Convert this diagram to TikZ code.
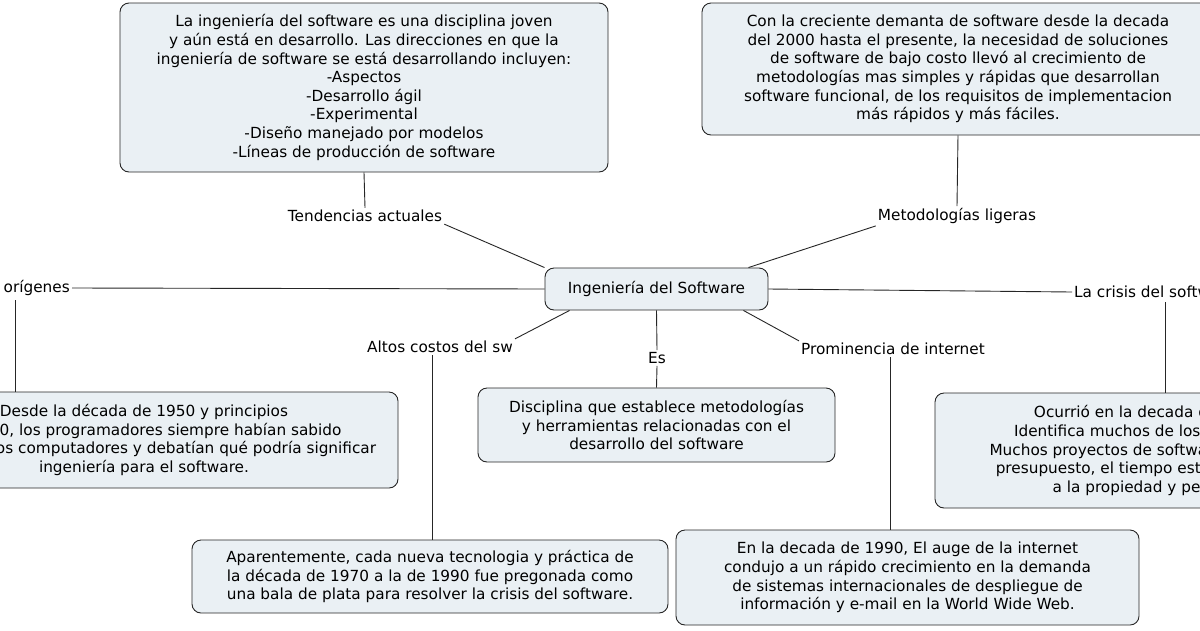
\documentclass[tikz,border=0pt]{standalone}
\usepackage{fontspec}
\setmainfont{DejaVu Sans}
\begin{document}
\begin{tikzpicture}[x=1pt,y=-1pt,
 box/.style={draw=black!85,line width=0.9pt,rounded corners=9pt,fill={rgb,255:red,234;green,240;blue,244},align=center,inner sep=0pt,font=\fontsize{15.3}{18.6}\selectfont},
 phr/.style={inner sep=2pt,font=\fontsize{15.3}{18.6}\selectfont},
 ln/.style={line width=0.9pt,draw=black!85}]
\useasboundingbox (0,0) rectangle (1200,630);
\clip (0,0) rectangle (1200,630);
\node[box,minimum width=488pt,minimum height=169pt] (b1) at (364,87.5) {La ingeniería del software es una disciplina joven\\y aún está en desarrollo. Las direcciones en que la\\ingeniería de software se está desarrollando incluyen:\\-Aspectos\\-Desarrollo ágil\\-Experimental\\-Diseño manejado por modelos\\-Líneas de producción de software};
\node[box,minimum width=512pt,minimum height=132pt] (b2) at (958,69) {Con la creciente demanta de software desde la decada\\del 2000 hasta el presente, la necesidad de soluciones\\de software de bajo costo llevó al crecimiento de\\metodologías mas simples y rápidas que desarrollan\\software funcional, de los requisitos de implementacion\\más rápidos y más fáciles.};
\node[box,minimum width=223pt,minimum height=42pt] (c) at (656.5,289) {Ingeniería del Software};
\node[box,minimum width=508pt,minimum height=96pt] (b4) at (144,440) {Desde la década de 1950 y principios\\de 1960, los programadores siempre habían sabido\\acerca de los computadores y debatían qué podría significar\\ingeniería para el software.};
\node[box,minimum width=357pt,minimum height=74pt] (b5) at (656.5,425) {Disciplina que establece metodologías\\y herramientas relacionadas con el\\desarrollo del software};
\node[box,minimum width=430pt,minimum height=115pt] (b6) at (1150,450.5) {Ocurrió en la decada de 1970.\\Identifica muchos de los problemas\\Muchos proyectos de software exceden el\\presupuesto, el tiempo estimado, daños\\a la propiedad y perdidas};
\node[box,minimum width=476pt,minimum height=73pt] (b7) at (430,576.5) {Aparentemente, cada nueva tecnologia y práctica de\\la década de 1970 a la de 1990 fue pregonada como\\una bala de plata para resolver la crisis del software.};
\node[box,minimum width=463pt,minimum height=95pt] (b8) at (907.5,577.5) {En la decada de 1990, El auge de la internet\\condujo a un rápido crecimiento en la demanda\\de sistemas internacionales de despliegue de\\información y e-mail en la World Wide Web.};
\node[phr] (p1) at (365,216) {Tendencias actuales};
\node[phr] (p2) at (957,216) {Metodologías ligeras};
\node[phr,anchor=east] (p3) at (72,288) {Los orígenes};
\node[phr,anchor=west] (p4) at (1072,292) {La crisis del software};
\node[phr] (p5) at (440,347) {Altos costos del sw};
\node[phr] (p6) at (657,358) {Es};
\node[phr] (p7) at (893,349) {Prominencia de internet};
\coordinate (p3d) at (15,300);
\coordinate (p4d) at (1165,302);
\draw[ln] (b1.south) -- (p1.north);
\draw[ln] (p1.south east) -- (c.north west);
\draw[ln] (b2.south) -- (p2.north);
\draw[ln] (p2.south west) -- ([xshift=-20pt]c.north east);
\draw[ln] (c.west) -- (p3.east);
\draw[ln] (p3d) -- (p3d|-b4.north);
\draw[ln] (c.east) -- (p4.west);
\draw[ln] (p4d) -- (p4d|-b6.north);
\draw[ln] ([xshift=25pt]c.south west) -- (p5.north east);
\draw[ln] ([xshift=-8pt]p5.south) -- ([xshift=-8pt]p5.south|-b7.north);
\draw[ln] (c.south) -- (p6.north);
\draw[ln] (p6.south) -- (b5.north);
\draw[ln] ([xshift=-25pt]c.south east) -- (p7.north west);
\draw[ln] ([xshift=-3pt]p7.south) -- ([xshift=-3pt]p7.south|-b8.north);
\end{tikzpicture}
\end{document}
